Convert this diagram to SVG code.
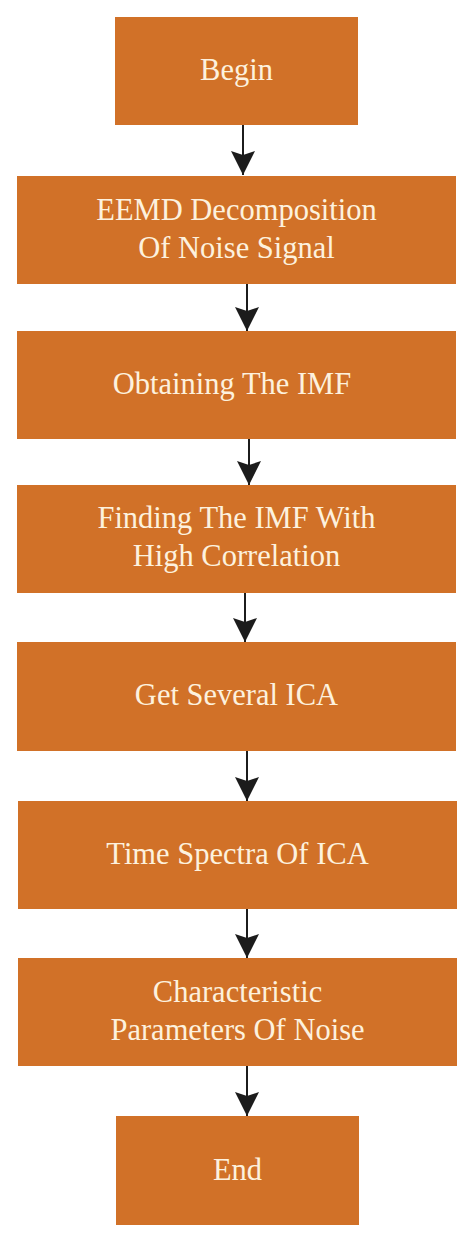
<svg xmlns="http://www.w3.org/2000/svg" width="474" height="1242" viewBox="0 0 474 1242">
<style>
.box{fill:#D17128;}
.t{font-family:"Liberation Serif","Times New Roman",serif;font-size:30.5px;fill:#FDF1DE;text-anchor:middle;}
.c{stroke:#1c1c1c;stroke-width:2;fill:none;marker-end:url(#ah);}
</style>
<defs>
<marker id="ah" viewBox="0 0 24 24" markerWidth="24" markerHeight="24" refX="24" refY="12" orient="auto" markerUnits="userSpaceOnUse">
<path d="M0,0 L24,12 L0,24 L4,12 Z" fill="#1c1c1c"/>
</marker>
</defs>
<rect width="474" height="1242" fill="#ffffff"/>
<g id="connectors">
<line class="c" x1="243" y1="125" x2="243" y2="175"/>
<line class="c" x1="247" y1="284" x2="247" y2="331"/>
<line class="c" x1="249" y1="439" x2="249" y2="485"/>
<line class="c" x1="245" y1="593" x2="245" y2="642"/>
<line class="c" x1="247" y1="751" x2="247" y2="801"/>
<line class="c" x1="247" y1="909" x2="247" y2="958"/>
<line class="c" x1="247" y1="1066" x2="247" y2="1116"/>
</g>
<g id="begin">
<rect class="box" x="115" y="17" width="243" height="108"/>
<text class="t" x="236.5" y="80">Begin</text>
</g>
<g id="eemd">
<rect class="box" x="17" y="176" width="439" height="108"/>
<text class="t" x="236.5" y="220">EEMD Decomposition</text>
<text class="t" x="236.5" y="258">Of Noise Signal</text>
</g>
<g id="obtain">
<rect class="box" x="17" y="331" width="439" height="108"/>
<text class="t" x="232" y="394">Obtaining The IMF</text>
</g>
<g id="finding">
<rect class="box" x="17" y="485" width="439" height="108"/>
<text class="t" x="236.5" y="528">Finding The IMF With</text>
<text class="t" x="236.5" y="566">High Correlation</text>
</g>
<g id="ica">
<rect class="box" x="17" y="642" width="439" height="109"/>
<text class="t" x="236.5" y="705">Get Several ICA</text>
</g>
<g id="spectra">
<rect class="box" x="18" y="801" width="439" height="108"/>
<text class="t" x="237.5" y="864">Time Spectra Of ICA</text>
</g>
<g id="params">
<rect class="box" x="18" y="958" width="439" height="108"/>
<text class="t" x="237.5" y="1002">Characteristic</text>
<text class="t" x="237.5" y="1040">Parameters Of Noise</text>
</g>
<g id="end">
<rect class="box" x="116" y="1116" width="243" height="109"/>
<text class="t" x="237.5" y="1180">End</text>
</g>
</svg>
